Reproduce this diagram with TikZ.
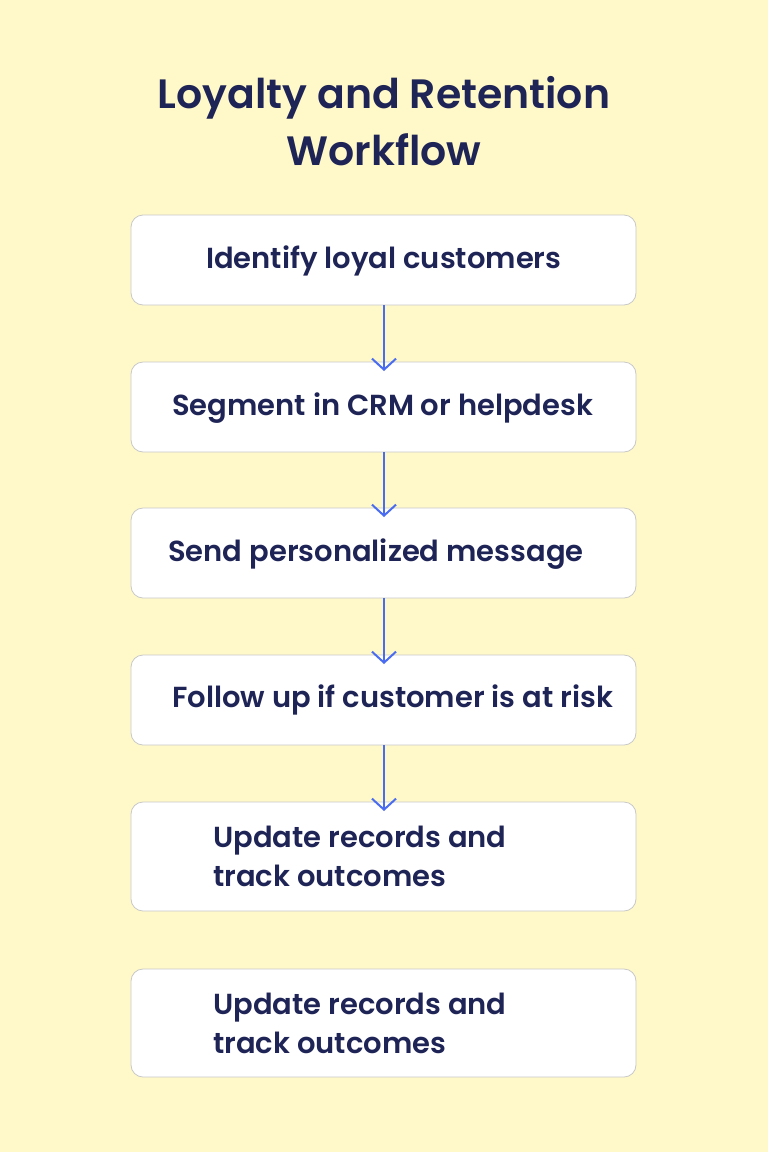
\documentclass[tikz,border=0pt]{standalone}
\usepackage{fontspec}
\setmainfont{Poppins SemiBold}
\usetikzlibrary{arrows.meta}
\definecolor{bg}{HTML}{FFF9C9}
\definecolor{navy}{HTML}{1E2455}
\definecolor{arr}{HTML}{4A6CF0}
\definecolor{bord}{HTML}{C8C8C8}
\begin{document}
\begin{tikzpicture}[x=1pt,y=-1pt,
 box/.style={draw=bord,fill=white,rounded corners=12pt,line width=0.8pt},
 txt/.style={anchor=west,text=navy,font=\fontsize{29}{39}\selectfont,inner sep=0pt},
 link/.style={draw=arr,line width=2pt,-{Straight Barb[length=11pt,width=24pt]}}]
\useasboundingbox[fill=bg] (0,0) rectangle (768,1152);
\node[text=navy,font=\fontsize{41}{57}\selectfont,align=center] (title) at (384,121) {Loyalty and Retention\\Workflow};
\draw[box] (131,215) rectangle (636,305); \coordinate (b1) at (384,305);
\draw[box] (131,362) rectangle (636,452); \coordinate (t2) at (384,362); \coordinate (b2) at (384,452);
\draw[box] (131,508) rectangle (636,598); \coordinate (t3) at (384,508); \coordinate (b3) at (384,598);
\draw[box] (131,655) rectangle (636,745); \coordinate (t4) at (384,655); \coordinate (b4) at (384,745);
\draw[box] (131,802) rectangle (636,911); \coordinate (t5) at (384,802);
\draw[box] (131,969) rectangle (636,1077);
\node[txt] (n1) at (206,261) {Identify loyal customers};
\node[txt] (n2) at (172,408) {Segment in CRM or helpdesk};
\node[txt] (n3) at (168,554) {Send personalized message};
\node[txt] (n4) at (172,700) {Follow up if customer is at risk};
\node[txt,align=left] (n5) at (213,856) {Update records and\\track outcomes};
\node[txt,align=left] (n6) at (213,1023) {Update records and\\track outcomes};
\draw[link] (b1) -- ([yshift=-9pt]t2);
\draw[link] (b2) -- ([yshift=-9pt]t3);
\draw[link] (b3) -- ([yshift=-9pt]t4);
\draw[link] (b4) -- ([yshift=-9pt]t5);
\end{tikzpicture}
\end{document}
